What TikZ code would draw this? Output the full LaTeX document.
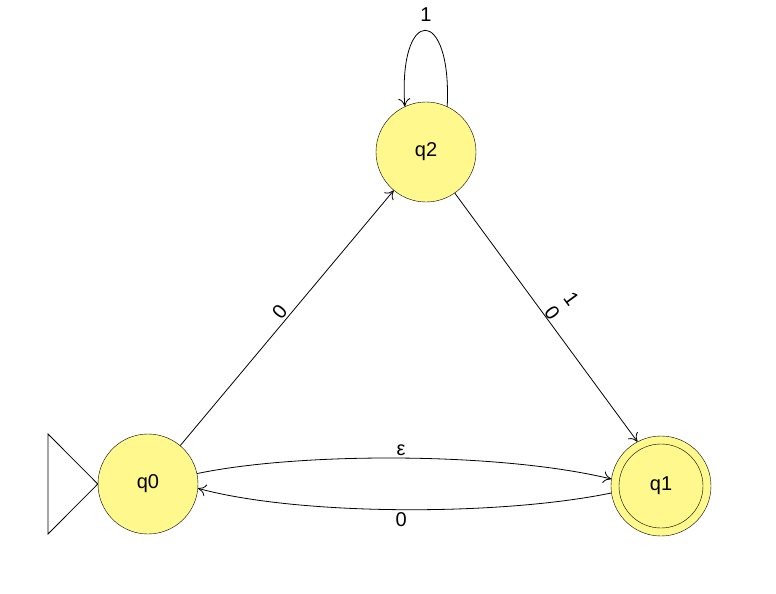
\documentclass[tikz,border=0pt]{standalone}
\usepackage{fontspec}
\setmainfont{Liberation Sans}
\usetikzlibrary{arrows.meta}
\definecolor{stfill}{RGB}{255,248,140}
\begin{document}
\begin{tikzpicture}[x=1pt,y=-1pt,
  state/.style={circle,draw,fill=stfill,minimum size=100pt,inner sep=0pt,font=\fontsize{20}{24}\selectfont},
  edge/.style={draw,line width=0.8pt,-{To[length=8pt,width=12pt]}},
  lbl/.style={font=\fontsize{20}{24}\selectfont}]
\useasboundingbox (0,0) rectangle (776,594);
\node[state] (q2) at (426,152) {q2};
\node[state] (q0) at (148,484) {q0};
\node[state] (q1) at (661,486) {};
\node[state,minimum size=84pt] (q1i) at (661,486) {q1};
\draw[line width=0.8pt] (q0.west) -- (48,434) -- (48,534) -- cycle;
\draw[edge] (q2.65) .. controls (452,5) and (398,5) .. (q2.115);
\node[lbl] (l1) at (426,15) {1};
\draw[edge] (q0.50) -- node[lbl,sloped,above,inner sep=2pt] {0} (q2.230);
\draw[edge] (q2.305) -- node[lbl,sloped,above,align=center,inner sep=0pt] {1\\0} (q1.118);
\draw[edge] (q0.12) .. controls (300,452) and (500,452) .. node[lbl,above,inner sep=2pt] {ε} (q1.172);
\draw[edge] (q1.188) .. controls (500,516) and (300,516) .. node[lbl,below,inner sep=2pt] {0} (q0.-5);
\end{tikzpicture}
\end{document}
